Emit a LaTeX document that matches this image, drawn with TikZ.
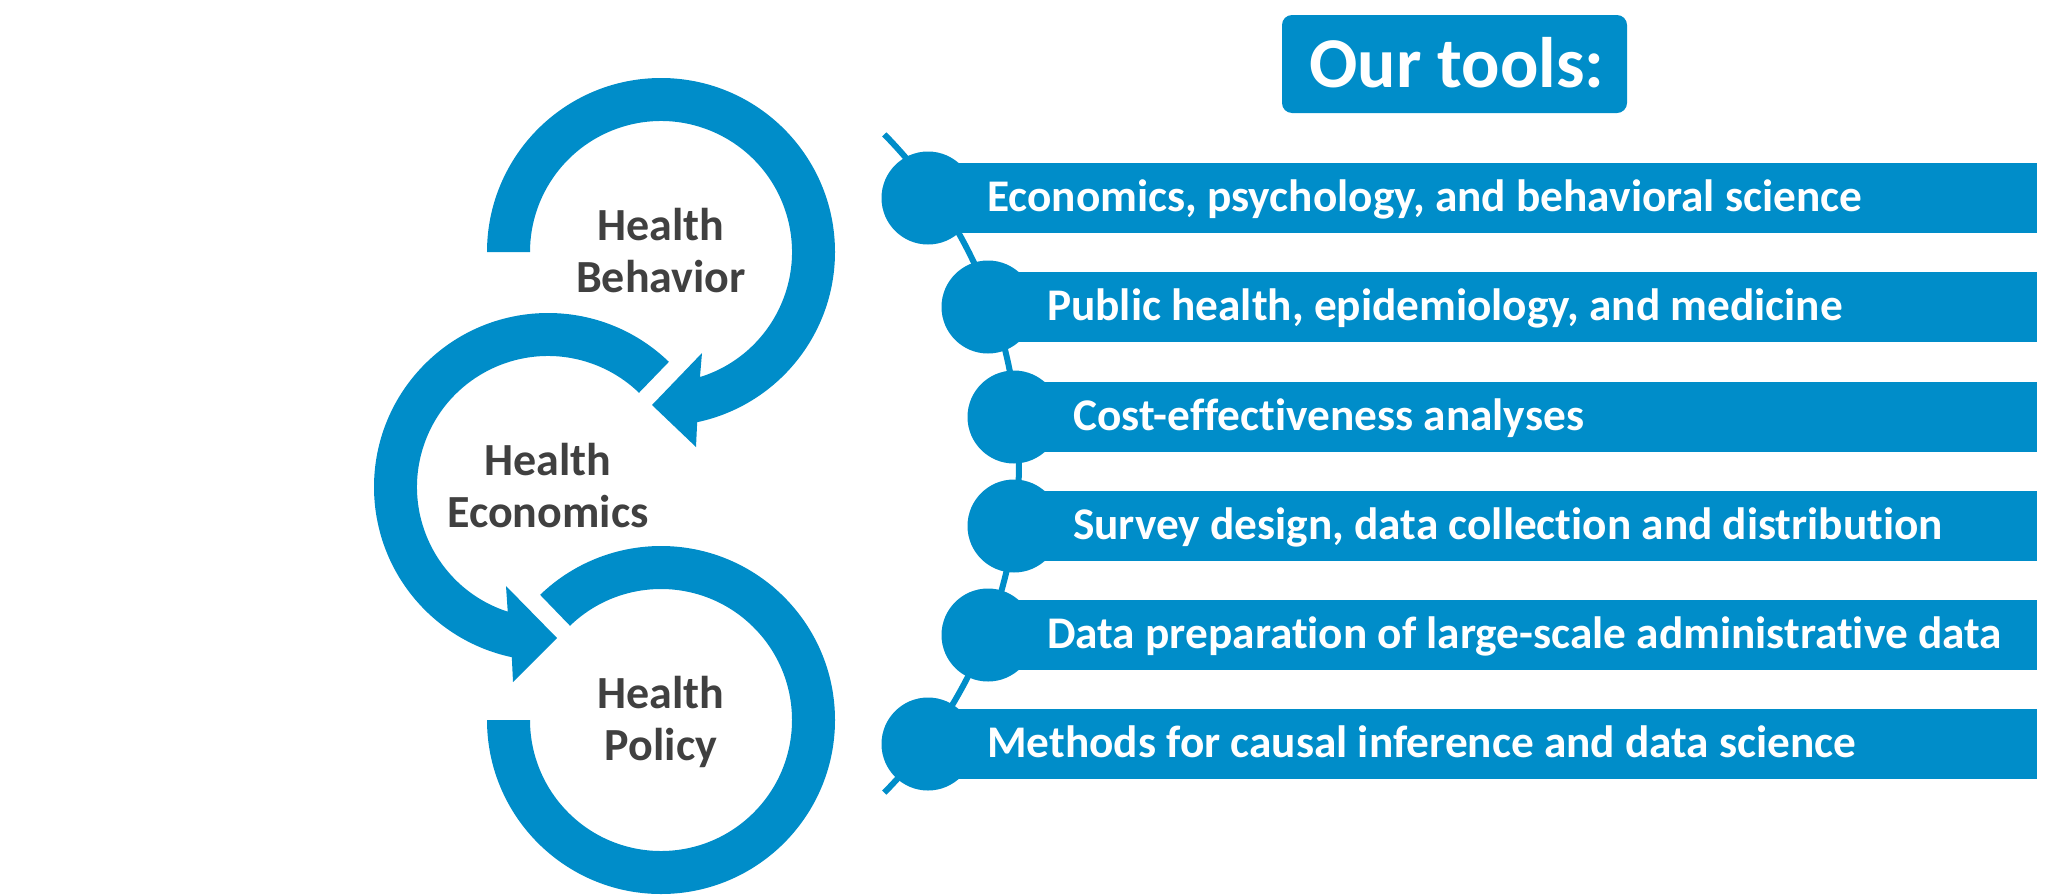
\documentclass[tikz,border=0pt]{standalone}
\usepackage{fontspec}
\setmainfont{Carlito}[Ligatures=NoCommon]
\usetikzlibrary{calc}
\definecolor{hblue}{RGB}{0,141,201}
\definecolor{hgray}{RGB}{64,64,64}
\tikzset{
  ringfill/.style={fill=hblue, draw=none},
  cyclelabel/.style={anchor=base, inner sep=0pt, text=hgray, font=\fontsize{46}{52}\selectfont\bfseries},
  toolbar/.style={fill=hblue, draw=none},
  tooldot/.style={circle, fill=hblue, draw=none, minimum size=93pt, inner sep=0pt},
  tooltext/.style={anchor=base west, inner sep=0pt, text=white, font=\fontsize{45.3}{52}\selectfont\bfseries},
  spine/.style={draw=hblue, line width=6pt},
}
\begin{document}
\begin{tikzpicture}[x=1pt,y=1pt]
\useasboundingbox (0,0) rectangle (2048,-895);
% ---- ring 1 : Health Behavior
\fill[ringfill] (661,-252) ++(180:174) arc[start angle=180, end angle=-78, radius=174]
  -- (696,-447) -- (652,-405) -- (702,-353)
  -- ($(661,-252)+(-72.7:131)$) arc[start angle=-72.7, end angle=180, radius=131] -- cycle;
% ---- ring 2 : Health Economics
\fill[ringfill] (548,-487) ++(46:174) arc[start angle=46, end angle=258, radius=174]
  -- (513,-682) -- (557,-638) -- (506,-586)
  -- ($(548,-487)+(252.1:131)$) arc[start angle=252.1, end angle=46, radius=131] -- cycle;
% ---- ring 3 : Health Policy
\fill[ringfill] (661,-720) ++(180:174) arc[start angle=180, end angle=494, radius=174]
  -- ($(661,-720)+(134:131)$) arc[start angle=134, end angle=-180, radius=131] -- cycle;
% labels
\node[cyclelabel] (hb1) at (661,-240) {Health};
\node[cyclelabel] (hb2) at (661,-292) {Behavior};
\node[cyclelabel] (he1) at (548,-475) {Health};
\node[cyclelabel] (he2) at (548,-527) {Economics};
\node[cyclelabel] (hp1) at (661,-708) {Health};
\node[cyclelabel] (hp2) at (661,-760) {Policy};
% ---- title
\fill[hblue, rounded corners=10pt] (1282,-15) rectangle (1627,-113);
\node[anchor=base, inner sep=0pt, text=white, font=\fontsize{71.5}{80}\selectfont\bfseries] (title) at (1457,-87) {Our tools:};
% ---- spine arc
\coordinate (sc) at (549.4,-463.5);
\draw[spine] ($(sc)+(44.5:469.6)$) arc[start angle=44.5, end angle=-44.5, radius=469.6];
% ---- bars
\foreach \i/\cx/\cy in {1/928/198, 2/988/307, 3/1014/417, 4/1014/526, 5/988/635, 6/928/744}{
  \fill[toolbar] (\cx,-\cy+35) rectangle (2037,-\cy-35);
  \node[tooldot] (dot\i) at (\cx,-\cy) {};
}
\node[tooltext] (t1) at (987,-211) {Economics, psychology, and behavioral science};
\node[tooltext] (t2) at (1047,-320) {Public health, epidemiology, and medicine};
\node[tooltext] (t3) at (1073,-430) {Cost-effectiveness analyses};
\node[tooltext] (t4) at (1073,-539) {Survey design, data collection and distribution};
\node[tooltext] (t5) at (1047,-648) {Data preparation of large-scale administrative data};
\node[tooltext] (t6) at (987,-757) {Methods for causal inference and data science};
\end{tikzpicture}
\end{document}
